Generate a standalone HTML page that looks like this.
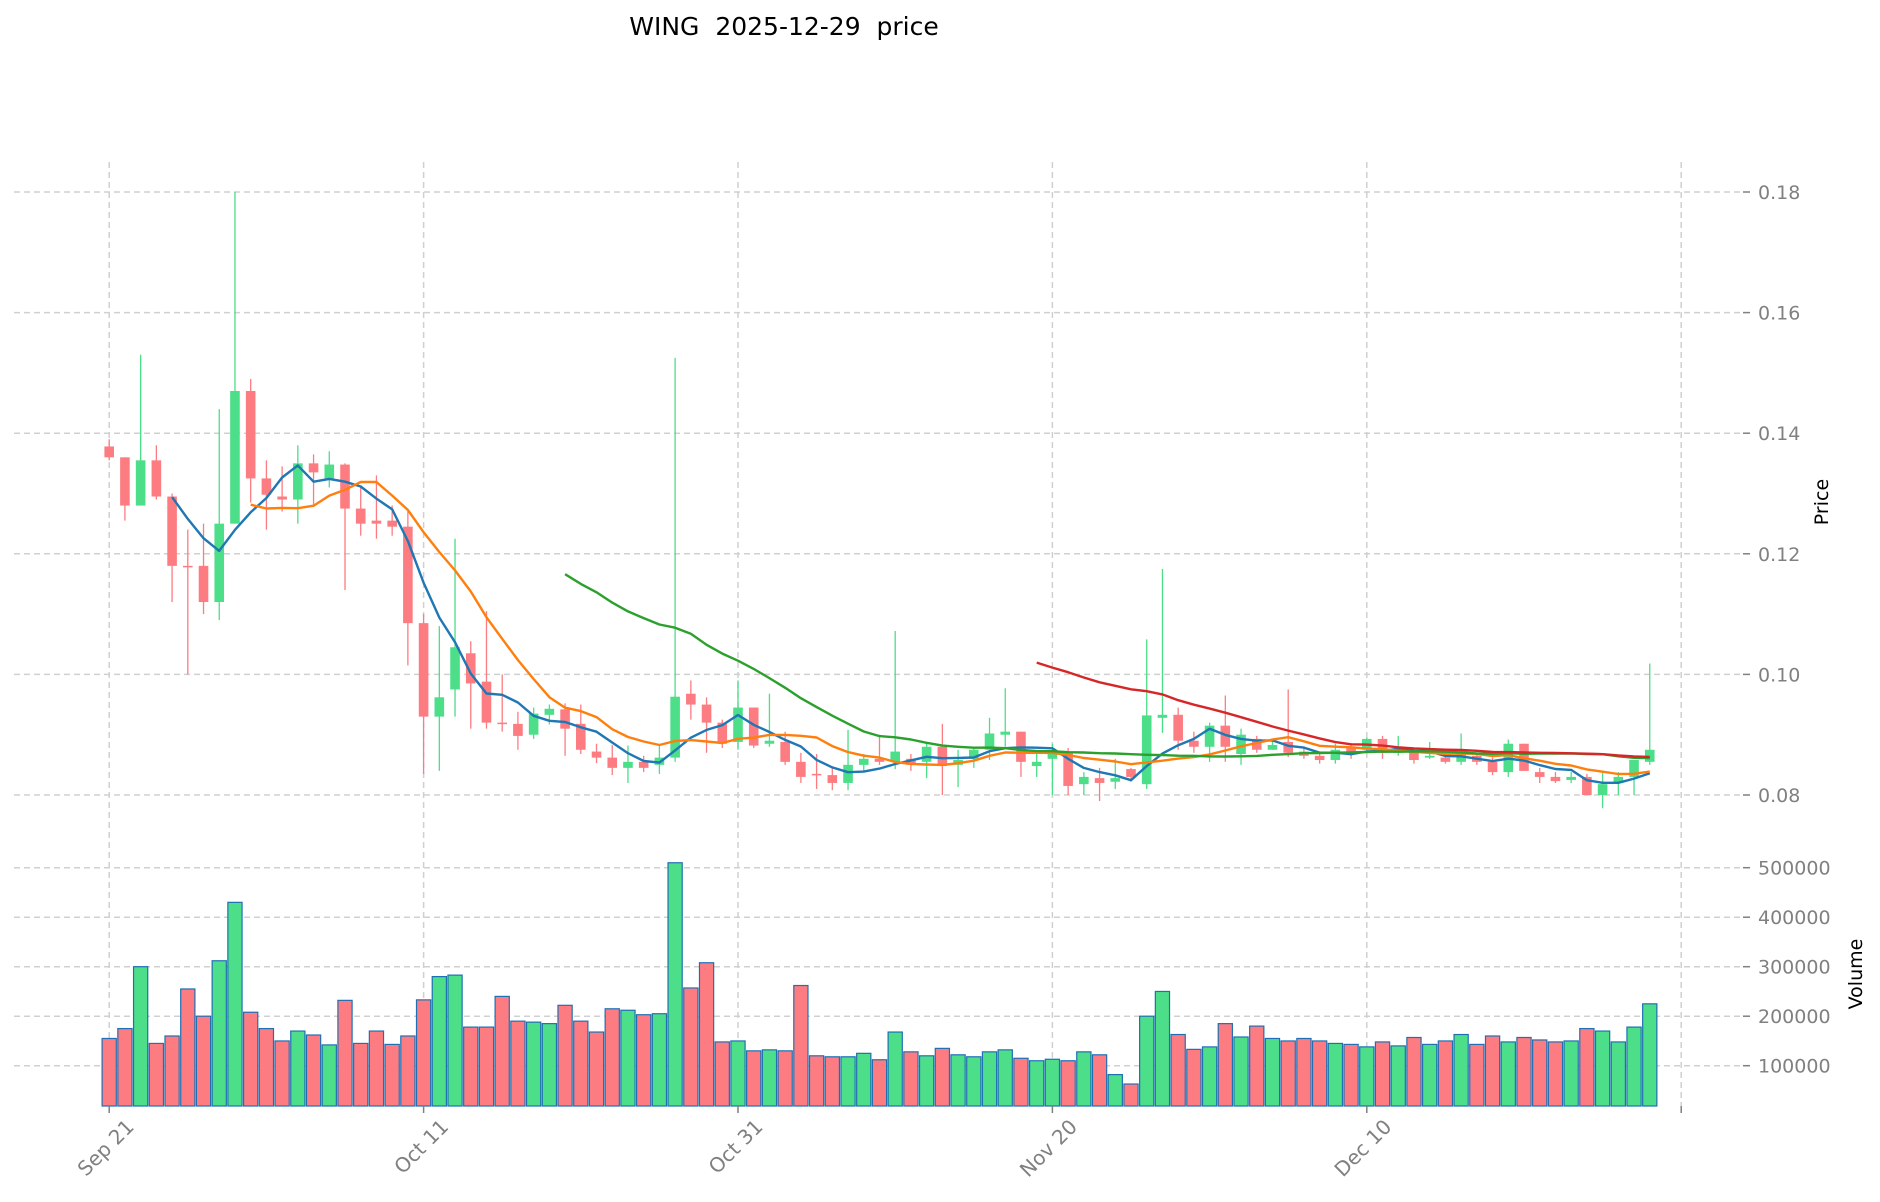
<!DOCTYPE html>
<html><head><meta charset="utf-8"><style>
html,body{margin:0;padding:0;background:#fff}
svg{display:block;font-family:"DejaVu Sans","Liberation Sans",sans-serif}
</style></head><body>
<svg id="chart" width="1880" height="1202" viewBox="0 0 1880 1202" xmlns="http://www.w3.org/2000/svg">
<text x="784" y="35" font-size="25" text-anchor="middle" fill="#000" style="white-space:pre" xml:space="preserve">WING  2025-12-29  price</text>
<g id="grid"></g>
<g id="vol"></g>
<g id="candles"></g>
<g id="mas"></g>
<g id="axes"></g>
<text x="1828" y="502" font-size="19" text-anchor="middle" transform="rotate(-90 1828 502)">Price</text>
<text x="1862" y="974" font-size="19" text-anchor="middle" transform="rotate(-90 1862 974)">Volume</text>
</svg>
<script>
const opens=[.1378,.136,.128,.1355,.1295,.118,.118,.112,.125,.147,.1325,.1295,.129,.135,.1325,.1348,.1275,.1255,.1255,.1245,.1085,.093,.0975,.1035,.0988,.0920,.0918,.0900,.0933,.0942,.0918,.0872,.0862,.0845,.0855,.0850,.0862,.0968,.0950,.0920,.0888,.0945,.0885,.0888,.0855,.0835,.0833,.0820,.0850,.0860,.0855,.0860,.0855,.0880,.0850,.0860,.0875,.0900,.0905,.0848,.0860,.0870,.0818,.0828,.0822,.0843,.0818,.0928,.0933,.0890,.0880,.0915,.0868,.0893,.0875,.0888,.0872,.0865,.0858,.0878,.0875,.0893,.0870,.0872,.0862,.0862,.0855,.0865,.0855,.0838,.0885,.0838,.0830,.0825,.0830,.0800,.0820,.0830,.0855];
const closes=[.136,.128,.1355,.1295,.118,.1179,.112,.125,.147,.1325,.1298,.129,.135,.1335,.1348,.1275,.125,.125,.1245,.1085,.093,.0962,.1045,.0985,.092,.0919,.0898,.0935,.0943,.0910,.0875,.0862,.0845,.0855,.0845,.0862,.0963,.0950,.0920,.0885,.0945,.0882,.0890,.0855,.0830,.0834,.0820,.0850,.0860,.0855,.0872,.0850,.0880,.0848,.0858,.0875,.0902,.0905,.0855,.0855,.0870,.0815,.0830,.0820,.0828,.0830,.0932,.0933,.0890,.0880,.0915,.0880,.0900,.0875,.0883,.0870,.0865,.0858,.0875,.0870,.0893,.0870,.0875,.0858,.0865,.0855,.0868,.0855,.0838,.0885,.0840,.0830,.0823,.0830,.0800,.0818,.0830,.0858,.0875];
const highs=[.139,.136,.153,.138,.130,.124,.125,.144,.180,.149,.1355,.1345,.138,.1365,.137,.135,.131,.133,.128,.127,.110,.108,.1225,.1055,.1105,.100,.0938,.0945,.0950,.0952,.0950,.0885,.0883,.0882,.0865,.0885,.1525,.0990,.0962,.0925,.0990,.0945,.0968,.0905,.0870,.0868,.0845,.0908,.0868,.0900,.1072,.0868,.0885,.0918,.0875,.0880,.0928,.0977,.0905,.0868,.0885,.0878,.0838,.0845,.0860,.0845,.1058,.1175,.0945,.0905,.0920,.0965,.0910,.0898,.0890,.0975,.0880,.0870,.0885,.0885,.0895,.0898,.0898,.0875,.0888,.0870,.0902,.0870,.0862,.0892,.0885,.0845,.0838,.0838,.0835,.0838,.0838,.0858,.1018];
const lows=[.1355,.1255,.128,.129,.112,.100,.110,.109,.125,.1285,.124,.127,.125,.128,.131,.114,.123,.1225,.123,.1015,.0835,.084,.093,.091,.0910,.0905,.0875,.0893,.0917,.0865,.0868,.0853,.0833,.082,.0838,.0835,.0855,.0925,.0870,.0878,.0875,.0878,.0880,.0850,.0820,.0810,.0808,.0808,.0838,.0850,.0843,.0840,.0828,.0800,.0813,.0845,.0858,.0880,.0830,.0830,.0800,.0800,.0800,.0790,.0810,.0822,.0810,.0903,.0875,.0870,.0855,.0855,.0850,.0870,.0875,.0863,.0860,.0852,.0852,.0860,.0870,.0860,.0865,.0852,.0860,.0852,.0850,.0850,.0833,.0830,.0840,.0820,.0820,.0820,.0800,.0778,.0800,.0800,.0850];
const volumes=[155,175,300,145,160,255,200,312,430,208,175,150,170,162,142,232,145,170,143,160,233,280,283,178,178,240,190,188,185,222,190,168,215,212,203,205,510,257,308,148,150,130,132,130,262,120,118,118,125,112,168,128,120,135,122,118,128,132,115,110,113,110,128,122,82,63,200,250,163,133,138,185,158,180,155,150,155,150,145,143,138,148,140,157,143,150,163,143,160,148,157,152,148,150,175,170,148,178,225].map(v=>v*1000);
const dateTickLabels=["Sep 21","Oct 11","Oct 31","Nov 20","Dec 10",""];
const dateTickIdx=[0,20,40,60,80,100];
const priceTicks=[0.08,0.10,0.12,0.14,0.16,0.18];
const volTicks=[100000,200000,300000,400000,500000];
const maPeriods=[5,10,30,60];
const maColors=["#1f77b4","#ff7f0e","#2ca02c","#d62728"];

const NS="http://www.w3.org/2000/svg";
const X0=109.2,DX=15.72,PL=14,PR=1743;
const xs=i=>X0+DX*i;
const yp=p=>192+(0.18-p)*6030;
const yv=v=>1115.2-v*0.000495;
const VB=1106;
function mk(parent,tag,attrs){const e=document.createElementNS(NS,tag);for(const k in attrs)e.setAttribute(k,attrs[k]);document.getElementById(parent).appendChild(e);return e;}
const UP="#4cde88",DN="#fd7c81";

priceTicks.forEach(t=>{const e=mk('grid','line',{x1:PL,x2:PR,y1:yp(t),y2:yp(t),stroke:"#d0d0d0","stroke-width":1.5,"stroke-dasharray":"6,4"});

});
volTicks.forEach(t=>{const e=mk('grid','line',{x1:PL,x2:PR,y1:yv(t),y2:yv(t),stroke:"#d0d0d0","stroke-width":1.5,"stroke-dasharray":"6,4"});

});
dateTickIdx.forEach(i=>{const e=mk('grid','line',{x1:xs(i),x2:xs(i),y1:162,y2:VB,stroke:"#d0d0d0","stroke-width":1.5,"stroke-dasharray":"6,4"});

});

volumes.forEach((v,i)=>{const up=closes[i]>=opens[i];const top=yv(v);
const e=mk('vol','rect',{x:xs(i)-7.1,y:top,width:14.2,height:VB-top,fill:up?UP:DN,stroke:"#1f6fb4","stroke-width":1.2});

});

opens.forEach((o,i)=>{const c=closes[i];const up=c>=o;const col=up?UP:DN;
const w=mk('candles','line',{x1:xs(i),x2:xs(i),y1:yp(highs[i]),y2:yp(lows[i]),stroke:col,"stroke-width":1.3});


const t=yp(Math.max(o,c)),b=yp(Math.min(o,c));
const r=mk('candles','rect',{x:xs(i)-4.8,y:t,width:9.6,height:Math.max(b-t,1.5),fill:col});

});

maPeriods.forEach((n,k)=>{let pts=[];for(let i=n-1;i<closes.length;i++){let s=0;for(let j=i-n+1;j<=i;j++)s+=closes[j];pts.push(xs(i).toFixed(1)+","+yp(s/n).toFixed(1));}
const e=mk('mas','polyline',{points:pts.join(" "),fill:"none",stroke:maColors[k],"stroke-width":2.4,"stroke-linejoin":"round"});

});

priceTicks.forEach(t=>{mk('axes','line',{x1:PR,x2:1750,y1:yp(t),y2:yp(t),stroke:"#808080","stroke-width":1.5});
const e=mk('axes','text',{x:1758,y:yp(t)+7,"font-size":19,fill:"#808080"});e.textContent=t.toFixed(2);

});
volTicks.forEach(t=>{mk('axes','line',{x1:PR,x2:1750,y1:yv(t),y2:yv(t),stroke:"#808080","stroke-width":1.5});
const e=mk('axes','text',{x:1758,y:yv(t)+7,"font-size":19,fill:"#808080"});e.textContent=String(t);

});
dateTickIdx.forEach((i,k)=>{const x=xs(i);mk('axes','line',{x1:x,x2:x,y1:VB,y2:VB+7,stroke:"#808080","stroke-width":1.5});
if(dateTickLabels[k]){const ax=x+26,ay=VB+22;const e=mk('axes','text',{x:ax,y:ay,"font-size":20,fill:"#808080","text-anchor":"end",transform:`rotate(-45 ${ax} ${ay})`});e.textContent=dateTickLabels[k];

}});
</script>
</body></html>
